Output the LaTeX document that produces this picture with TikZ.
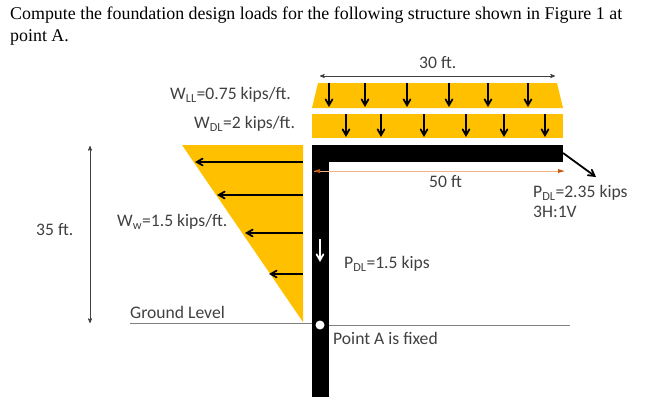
\documentclass[tikz,border=0pt]{standalone}
\usepackage{fontspec}
\setmainfont{Liberation Serif}
\newfontfamily\labelfont{Carlito}
\usetikzlibrary{arrows}
\definecolor{loadfill}{RGB}{255,192,0}
\definecolor{dimline}{RGB}{244,177,131}
\definecolor{dimtip}{RGB}{197,90,17}
\definecolor{labelgray}{RGB}{64,64,64}
\tikzset{
	heading/.style={font=\fontsize{17.9}{20}\selectfont,anchor=west,inner sep=0pt},
	label node/.style={font=\labelfont\fontsize{17.6}{20}\selectfont,text=labelgray,anchor=west,inner sep=0pt},
	load/.style={draw=none,fill=loadfill},
	member/.style={draw=none,fill=black},
	load arrow/.style={->,>=angle 60,line width=1.8pt,black},
	dim arrow/.style={<->,>=stealth',line width=0.7pt,black!75}
}
\begin{document}
\begin{tikzpicture}[x=1pt,y=-1pt]
	\useasboundingbox (0,0) rectangle (651,415);
	\node [heading] (title1) at (10,15) {Compute the foundation design loads for the following structure shown in Figure 1 at};
	\node [heading] (title2) at (10,37) {point A.};
	% loads
	\fill [load] (318,83) -- (557,83) -- (563,108) -- (312,108) -- cycle;
	\fill [load] (312,114) rectangle (563,138);
	\fill [load] (182,145) -- (303,145) -- (303,322) -- cycle;
	% frame
	\fill [member] (312,145) rectangle (563,162);
	\fill [member] (312,145) rectangle (329,397);
	% ground
	\coordinate (g1) at (130,323);
	\coordinate (g2) at (312,323);
	\coordinate (g3) at (329,325);
	\coordinate (g4) at (570,325);
	\draw [gray,line width=0.7pt] (g1) -- (g2);
	\draw [gray,line width=0.7pt] (g3) -- (g4);
	\node [circle,fill=white,inner sep=0pt,minimum size=9pt] (A) at (320,325) {};
	% distributed loads
	\foreach \x in {329,365,407,449,488,528}{
		\coordinate (a\x) at (\x,83);
		\coordinate (b\x) at (\x,107);
		\draw [load arrow] (a\x) -- (b\x);
	}
	\foreach \x in {346,381,424,466,504,545}{
		\coordinate (c\x) at (\x,114);
		\coordinate (d\x) at (\x,137);
		\draw [load arrow] (c\x) -- (d\x);
	}
	\foreach \y/\xe in {162/195,195/217,233/245,274/269}{
		\coordinate (e\y) at (303,\y);
		\coordinate (f\y) at (\xe,\y);
		\draw [load arrow] (e\y) -- (f\y);
	}
	% point loads
	\coordinate (p1) at (320,239);
	\coordinate (p2) at (320,262);
	\draw [load arrow,white] (p1) -- (p2);
	\coordinate (q1) at (563,153);
	\coordinate (q2) at (596,177);
	\draw [load arrow] (q1) -- (q2);
	% dimensions
	\coordinate (r1) at (320,76);
	\coordinate (r2) at (555,76);
	\draw [dim arrow] (r1) -- (r2);
	\coordinate (s1) at (90,146);
	\coordinate (s2) at (90,323);
	\draw [dim arrow] (s1) -- (s2);
	\coordinate (t1) at (314,171);
	\coordinate (t2) at (564,171);
	\draw [line width=0.7pt,dimline] (t1) -- (t2);
	\fill [dimtip] (314,171) -- (320,169) -- (320,173) -- cycle;
	\fill [dimtip] (564,171) -- (558,169) -- (558,173) -- cycle;
	% labels
	\node [label node] (l30) at (419,63) {30 ft.};
	\node [label node] (l50) at (429,182) {50 ft};
	\node [label node] (l35) at (36,230) {35 ft.};
	\node [label node] (wll) at (170,95) {W\textsubscript{LL}=0.75 kips/ft.};
	\node [label node] (wdl) at (194,124) {W\textsubscript{DL}=2 kips/ft.};
	\node [label node] (ww) at (117,222) {W\textsubscript{w}=1.5 kips/ft.};
	\node [label node] (gl) at (130,312) {Ground Level};
	\node [label node] (pdl) at (344,264) {P\textsubscript{DL}=1.5 kips};
	\node [label node] (pa) at (333,338) {Point A is fixed};
	\node [label node] (pdr) at (533,193) {P\textsubscript{DL}=2.35 kips};
	\node [label node] (hv) at (533,212) {3H:1V};
\end{tikzpicture}
\end{document}
